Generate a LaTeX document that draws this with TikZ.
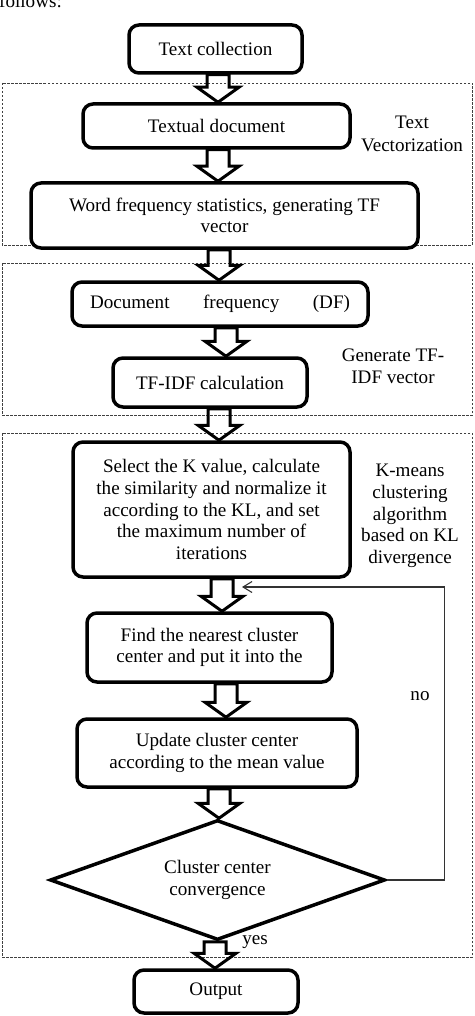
\documentclass[tikz,border=0pt]{standalone}
\usepackage{fontspec}
\setmainfont{Liberation Serif}
\usetikzlibrary{shapes.geometric,calc,arrows.meta}
\tikzset{
  every node/.style={font=\fontsize{19.1}{21.7}\selectfont},
  box/.style={draw, line width=3.5pt, rounded corners=10pt, align=center, inner sep=0pt, fill=white},
  grp/.style={draw=black!75, line width=0.8pt, dash pattern=on 2.5pt off 1.5pt},
  barrow/.style={draw, line width=3pt, line join=miter},
  lbl/.style={align=center, inner sep=0pt},
  fbline/.style={draw=black!80, line width=1.3pt},
}
\newcommand\barr[3]{\draw[barrow] let \p1=(#1.south), \p2=(#2.north) in
  (#3pt-11pt,\y1) -- (#3pt+11pt,\y1) -- (#3pt+11pt,\y2+15pt) -- (#3pt+21pt,\y2+15pt)
  -- (#3pt,\y2) -- (#3pt-21pt,\y2+15pt) -- (#3pt-11pt,\y2+15pt) -- cycle;}
\begin{document}
\begin{tikzpicture}[x=1pt,y=-1pt]
\useasboundingbox (0,0) rectangle (474,1016);
% group frames
\draw[grp] (2,83) rectangle (472,245);
\draw[grp] (2,263) rectangle (472,415);
\draw[grp] (2,433) rectangle (472,957);
% leading text
\node[anchor=base west, inner sep=0pt] (fol) at (-1,8) {follows:};
% boxes
\node[box, minimum width=173pt, minimum height=48pt] (b1) at (215.5,49) {Text collection};
\node[box, minimum width=267pt, minimum height=44pt] (b2) at (216.5,126) {Textual document};
\node[box, minimum width=387pt, minimum height=65pt] (b3) at (224.5,215.5) {Word frequency statistics, generating TF\\vector};
\node[box, minimum width=296pt, minimum height=44pt] (b4) at (220,304) {\makebox[260pt]{Document\hfill frequency\hfill (DF)}};
\node[box, minimum width=194pt, minimum height=49pt] (b5) at (210,382.5) {TF-IDF calculation};
\node[box, minimum width=277pt, minimum height=135pt] (b6) at (211.5,509.5) {Select the K value, calculate\\the similarity and normalize it\\according to the KL, and set\\the maximum number of\\iterations};
\node[box, minimum width=245pt, minimum height=69pt] (b7) at (209.5,647.5) {Find the nearest cluster\\center and put it into the};
\node[box, minimum width=280pt, minimum height=68pt] (b8) at (217,753) {Update cluster center\\according to the mean value};
\node[diamond, draw, line width=3.5pt, aspect=2.8, minimum width=335pt, minimum height=120pt, inner sep=0pt, align=center, fill=white] (dia) at (217.5,880) {Cluster center\\convergence};
\node[box, minimum width=164pt, minimum height=43pt] (out) at (216,991.5) {Output};
% side labels
\node[lbl, font=\fontsize{19.1}{23.5}\selectfont] (l1) at (412,134) {Text\\Vectorization};
\node[lbl] (l2) at (393,366.5) {Generate TF-\\IDF vector};
\node[lbl] (l3) at (410,516) {K-means\\clustering\\algorithm\\based on KL\\divergence};
\node[lbl] (no) at (420,696) {no};
\node[lbl] (yes) at (255,942) {yes};
% block arrows
\barr{b1}{b2}{218}
\barr{b2}{b3}{218}
\barr{b3}{b4}{219}
\barr{b4}{b5}{226}
\barr{b5}{b6}{219}
\barr{b6}{b7}{222}
\barr{b7}{b8}{226}
\barr{b8}{dia}{219}
\barr{dia}{out}{215}
% feedback
\coordinate (fbend) at (242,587);
\draw[fbline, -{Straight Barb[length=9pt,width=11pt,line width=1.1pt]}] (dia.east) -- ++(58,0) |- (fbend);
\end{tikzpicture}
\end{document}
